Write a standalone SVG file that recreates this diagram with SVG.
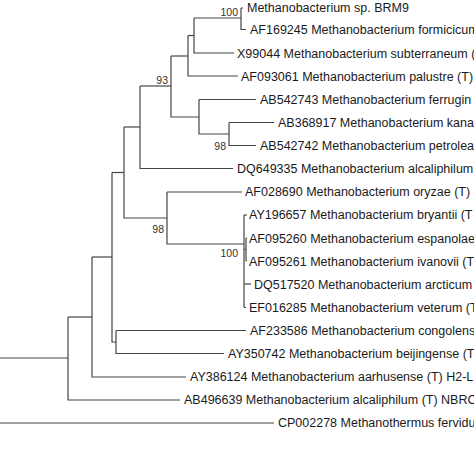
<svg xmlns="http://www.w3.org/2000/svg" width="474" height="474" viewBox="0 0 474 474">
<style>
.br{fill:none;stroke:#454545;stroke-width:1.2}
.lf{font-family:"Liberation Sans",Arial,sans-serif;font-size:12.5px;fill:#1a1a1a}
.bs{font-family:"Liberation Sans",Arial,sans-serif;font-size:10.5px;fill:#333;text-anchor:end}
</style>
<rect width="474" height="474" fill="#fff"/>
<g id="connectors" class="br">
<path d="M-2,358 V423 H274"/>
<path d="M-2,358 H68"/>
<path d="M68,317 V400 H180"/>
<path d="M68,317 H92"/>
<path d="M92,257 V377 H186"/>
<path d="M92,257 H112"/>
<path d="M112,172.5 V342 H116"/>
<path d="M112,172.5 H124"/>
<path d="M116,330.5 V353.5 H224"/>
<path d="M116,330.5 H246"/>
<path d="M124,127 V218 H167"/>
<path d="M124,127 H140"/>
<path d="M167,192 V244 H244"/>
<path d="M167,192 H242"/>
<path d="M244,215 V307.5"/>
<path d="M244,215 H247"/>
<path d="M244,249.5 H246"/>
<path d="M246,238 V261 M246,238 H247 M246,261 H247"/>
<path d="M244,284 H251"/>
<path d="M244,307.5 H246"/>
<path d="M140,86 V168.5 H233"/>
<path d="M140,86 H171"/>
<path d="M171,56 V117 H199"/>
<path d="M171,56 H188"/>
<path d="M199,99.5 V134 H229"/>
<path d="M199,99.5 H256"/>
<path d="M229,122.5 V145.5 H256"/>
<path d="M229,122.5 H274"/>
<path d="M188,35.5 V76 H238"/>
<path d="M188,35.5 H194"/>
<path d="M194,18 V53 H234"/>
<path d="M194,18 H241"/>
<path d="M241,8 V29.5 H246"/>
<path d="M241,8 H243"/>
</g>
<g id="bootstrap">
<text class="bs" x="238" y="16">100</text>
<text class="bs" x="168" y="83.5">93</text>
<text class="bs" x="226" y="149.5">98</text>
<text class="bs" x="164" y="233">98</text>
<text class="bs" x="238" y="257">100</text>
</g>
<g id="leaf-BRM9"><text class="lf" x="247" y="12">Methanobacterium sp. BRM9</text></g>
<g id="leaf-AF169245"><text class="lf" x="250" y="34">AF169245 Methanobacterium formicicum</text></g>
<g id="leaf-X99044"><text class="lf" x="237" y="57.5">X99044 Methanobacterium subterraneum (</text></g>
<g id="leaf-AF093061"><text class="lf" x="241" y="80.5">AF093061 Methanobacterium palustre (T)</text></g>
<g id="leaf-AB542743"><text class="lf" x="260" y="103.5">AB542743 Methanobacterium ferrugin</text></g>
<g id="leaf-AB368917"><text class="lf" x="278" y="127">AB368917 Methanobacterium kana</text></g>
<g id="leaf-AB542742"><text class="lf" x="260" y="150">AB542742 Methanobacterium petrolea</text></g>
<g id="leaf-DQ649335"><text class="lf" x="237" y="173">DQ649335 Methanobacterium alcaliphilum</text></g>
<g id="leaf-AF028690"><text class="lf" x="245" y="196">AF028690 Methanobacterium oryzae (T)</text></g>
<g id="leaf-AY196657"><text class="lf" x="249" y="219">AY196657 Methanobacterium bryantii (T</text></g>
<g id="leaf-AF095260"><text class="lf" x="249" y="242.5">AF095260 Methanobacterium espanolae</text></g>
<g id="leaf-AF095261"><text class="lf" x="249" y="265.5">AF095261 Methanobacterium ivanovii (T</text></g>
<g id="leaf-DQ517520"><text class="lf" x="254" y="288.5">DQ517520 Methanobacterium arcticum</text></g>
<g id="leaf-EF016285"><text class="lf" x="249" y="311.5">EF016285 Methanobacterium veterum (T</text></g>
<g id="leaf-AF233586"><text class="lf" x="250" y="335">AF233586 Methanobacterium congolens</text></g>
<g id="leaf-AY350742"><text class="lf" x="228" y="358">AY350742 Methanobacterium beijingense (T</text></g>
<g id="leaf-AY386124"><text class="lf" x="190" y="381">AY386124 Methanobacterium aarhusense (T) H2-L</text></g>
<g id="leaf-AB496639"><text class="lf" x="184" y="404">AB496639 Methanobacterium alcaliphilum (T) NBRC</text></g>
<g id="leaf-CP002278"><text class="lf" x="278" y="427">CP002278 Methanothermus fervidu</text></g>
</svg>
